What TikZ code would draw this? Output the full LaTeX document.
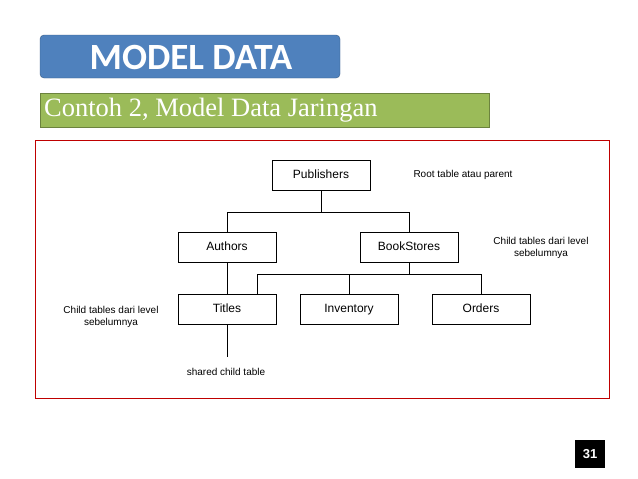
\documentclass[tikz,border=0pt]{standalone}
\usepackage{fontspec}
\setmainfont{Liberation Sans}
\newfontfamily\titlefont{Carlito}
\newfontfamily\subfont{Liberation Serif}
\usetikzlibrary{positioning}
\definecolor{titleblue}{HTML}{4F81BD}
\definecolor{subgreen}{HTML}{9BBB59}
\tikzset{
  tbl/.style={draw,thin,minimum width=98pt,minimum height=30pt,text height=9pt,text depth=2.5pt,font=\fontsize{12}{14}\selectfont},
  note/.style={align=center,font=\fontsize{10}{12}\selectfont},
  link/.style={draw,thin}
}
\begin{document}
\begin{tikzpicture}[x=1pt,y=-1pt]
\useasboundingbox (0,0) rectangle (638,479);
% header
\node[draw=titleblue!70!black,fill=titleblue,rounded corners=4pt,minimum width=300pt,minimum height=43pt] (head) at (190,56.5) {};
\node[text=white,inner sep=0pt,font=\titlefont\bfseries\fontsize{37}{40}\selectfont] (headtxt) at (191,57) {MODEL DATA};
\node[draw=subgreen!70!black,fill=subgreen,minimum width=449pt,minimum height=34pt] (sub) at (264.5,110) {};
\node[anchor=west,inner xsep=0pt,text=white,font=\subfont\fontsize{26.5}{29}\selectfont] (subtxt) at (44,110) {Contoh 2, Model Data Jaringan};
\draw[red!75!black] (35,140) rectangle (609,398);
% tables
\node[tbl] (pub) at (321,175) {Publishers};
\node[tbl] (auth) at (227,247) {Authors};
\node[tbl] (book) at (409,247) {BookStores};
\node[tbl] (tit) at (227,309) {Titles};
\node[tbl] (inv) at (349,309) {Inventory};
\node[tbl] (ord) at (481,309) {Orders};
\coordinate (share) at (227,357);
% links
\draw[link] (pub.south) -- ++(0,22) -| (auth.north);
\draw[link] (pub.south) ++(0,22) -| (book.north);
\draw[link] (book.south) -- ++(0,12) -| (ord.north);
\draw[link] (book.south) ++(0,12) -| (inv.north);
\draw[link] (book.south) ++(0,12) -| ([xshift=30pt]tit.north);
\draw[link] (auth.south) -- (tit.north);
\draw[link] (tit.south) -- (share);
% notes
\node[note] (root) at (463,175) {Root table atau parent};
\node[note] (childr) at (541,248) {Child tables dari level\\sebelumnya};
\node[note] (childl) at (111,317) {Child tables dari level\\sebelumnya};
\node[note] (shared) at (226,372) {shared child table};
% page number
\node[fill=black,text=white,font=\bfseries\fontsize{13}{15}\selectfont,minimum width=30pt,minimum height=28pt] (pg) at (590,454) {31};
\end{tikzpicture}
\end{document}
